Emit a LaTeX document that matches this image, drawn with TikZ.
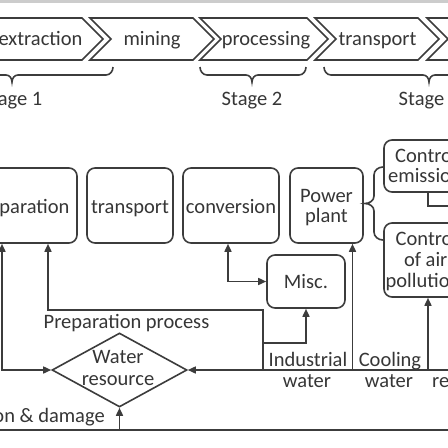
\documentclass[tikz,border=0pt]{standalone}
\usepackage{fontspec}
\setmainfont{Carlito}
\usetikzlibrary{arrows.meta,shapes.geometric}
\definecolor{lc}{HTML}{3C3C3C}
\definecolor{tc}{HTML}{363636}
\begin{document}
\begin{tikzpicture}[x=1pt,y=1pt,
  ln/.style={line width=1.6pt, draw=lc},
  tip/.tip={Triangle[length=8pt,width=7pt]},
  arr/.style={ln, -tip},
  darr/.style={ln, tip-tip},
  box/.style={ln, rounded corners=8pt, inner sep=0pt, minimum height=75pt},
  txt/.style={inner sep=0pt, anchor=base, text=tc, font=\fontsize{20.5}{20.5}\selectfont},
]
\useasboundingbox (0,0) rectangle (448,-448);
\fill[white] (0,0) rectangle (448,-448);
\clip (0,0) rectangle (448,-448);
\draw[gray!40, line width=3pt] (0,-1) -- (448,-1);

% chevrons
\foreach \a/\b in {-30/82, 90/193, 200/307, 315/418, 427/530}
  \draw[ln, line join=miter] (\a,-18) -- (\b,-18) -- (\b+21,-39) -- (\b,-60) -- (\a,-60) -- (\a+21,-39) -- cycle;
\node[txt] (t1) at (40.5,-45) {extraction};
\node[txt] (t2) at (152,-45) {mining};
\node[txt] (t3) at (266,-45) {processing};
\node[txt] (t4) at (377.5,-45) {transport};

% braces
\foreach \a/\t/\b in {-89/12/113, 200/252/306, 324/429/534}
  \draw[ln] (\a,-67) to[out=-90,in=180] (\a+7,-75) -- (\t-6,-75) to[out=0,in=90] (\t,-82)
            to[out=90,in=180] (\t+6,-75) -- (\b-7,-75) to[out=0,in=-90] (\b,-67);
\node[txt] (s1) at (12,-105) {Stage 1};
\node[txt] (s2) at (252,-105) {Stage 2};
\node[txt] (s3) at (429,-105) {Stage 3};

% boxes
\node[box, minimum width=113pt] (prep) at (20.5,-205.5) {};
\node[box, minimum width=86pt] (trans) at (130,-205.5) {};
\node[box, minimum width=96pt] (conv) at (231,-205.5) {};
\node[box, minimum width=73pt] (pp) at (326.5,-205.5) {};
\node[box, minimum width=83pt, minimum height=52pt] (ce) at (425.5,-166) {};
\node[box, minimum width=83pt, minimum height=74pt] (cap) at (425.5,-260) {};
\node[box, minimum width=78pt, minimum height=53pt] (misc) at (306,-281.5) {};
\node[ln, draw, shape=diamond, minimum width=135pt, minimum height=74pt, inner sep=0pt] (wr) at (119.5,-370) {};

\node[txt] (prepT) at (20.5,-213) {preparation};
\node[txt] (transT) at (130,-213) {transport};
\node[txt] (convT) at (231,-213) {conversion};
\node[txt] (ppT1) at (326.5,-202) {Power};
\node[txt] (ppT2) at (326.5,-222) {plant};
\node[txt] (ceT1) at (426,-162) {Control};
\node[txt] (ceT2) at (425,-182) {emission};
\node[txt] (capT1) at (426.5,-245) {Control};
\node[txt] (capT2) at (425.7,-266) {of air};
\node[txt] (capT3) at (423,-287) {pollution};
\node[txt] (miscT) at (306,-288) {Misc.};
\node[txt] (ppr) at (126.5,-328) {Preparation process};
\node[txt] (wrT1) at (118,-363) {Water};
\node[txt] (wrT2) at (118,-385) {resource};
\node[txt, anchor=base east] (dmg) at (105,-422) {Pollution \& damage};
\node[txt] (iw1) at (308,-366) {Industrial};
\node[txt] (iw2) at (307,-387) {water};
\node[txt] (cw1) at (390,-366) {Cooling};
\node[txt] (cw2) at (389,-387) {water};
\node[txt, anchor=base west] (rw) at (432,-387) {re};

% brace right of power plant
\draw[ln] (383,-167) to[out=180,in=90] (374,-175) -- (374,-196) to[out=-90,in=0] (365,-203.5)
          to[out=0,in=90] (374,-211) -- (374,-232) to[out=-90,in=180] (383,-240);
\draw[ln] (428,-192) -- (428,-206) -- (460,-206);

% connectors
\coordinate (ind) at (263,-370);
\draw[arr] (ind) -- (263,-310) -- (48,-310) -- (48,0 |- prep.south);
\draw[arr] (263,-343) -- (306,-343) -- (misc.south);
\draw[darr] (228,0 |- conv.south) -- (228,-281.5) -- (misc.west);
\draw[arr] (460,-370) -- (wr.east);
\draw[arr] (352.5,-370) -- (352.5,0 |- pp.south);
\draw[arr] (428,-370) -- (428,0 |- cap.south);
\draw[darr] (2,0 |- prep.south) -- (2,-370) -- (wr.west);
\draw[ln] (-5,-430) -- (460,-430);
\draw[arr] (119.5,-430) -- (wr.south);
\end{tikzpicture}
\end{document}
